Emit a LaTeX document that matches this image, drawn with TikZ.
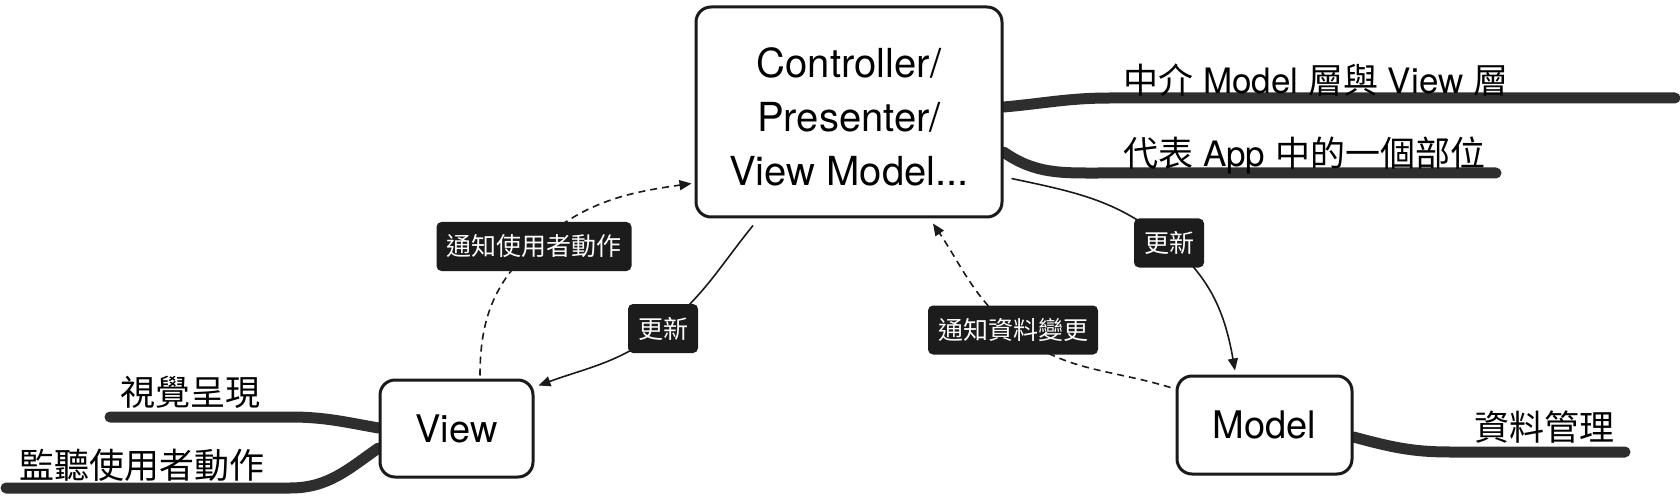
\documentclass[tikz,border=0pt]{standalone}
\usepackage{fontspec}
\setmainfont{TeX Gyre Heros}
\newfontfamily\cjk{Noto Sans CJK TC}
\usetikzlibrary{arrows.meta,calc,backgrounds}
\definecolor{ink}{HTML}{1A1A1A}
\definecolor{branchcol}{HTML}{2E2E2E}
\definecolor{tagbg}{HTML}{1C1C1C}
\begin{document}
\begin{tikzpicture}[x=0.5pt,y=-0.5pt,
  mainbox/.style={draw=ink,line width=1.5pt,rounded corners=7.5pt,fill=white,inner sep=0pt,align=center,font=\fontsize{19}{27}\selectfont},
  tag/.style={fill=tagbg,rounded corners=2.5pt,text=white,inner xsep=5pt,inner ysep=0pt,minimum height=24.5pt,font=\cjk\fontsize{12.5}{15}\selectfont},
  branchtxt/.style={anchor=west,inner sep=0pt,font=\fontsize{17.5}{20}\selectfont},
  branchline/.style={draw=branchcol,line width=5.5pt,line cap=round},
  flow/.style={draw=ink,line width=0.8pt,-{Triangle[length=6pt,width=5pt]}},
  flowdash/.style={flow,dash pattern=on 3.5pt off 2.5pt}]
\useasboundingbox (0,0) rectangle (1680,497);

% main nodes
\node[mainbox,minimum width=153pt,minimum height=105pt,font=\fontsize{20}{27}\selectfont] (ctrl) at (849,112) {\raisebox{0pt}[\dimexpr\height+9pt\relax][\depth]{\begin{tabular}{@{}c@{}}Controller/\\[0pt]Presenter/\\View Model...\end{tabular}}};
\node[mainbox,minimum width=76.5pt,minimum height=48.5pt] (view) at (456.5,428.5) {View};
\node[mainbox,minimum width=87.5pt,minimum height=49pt] (model) at (1264.5,425) {Model};

% labels
\node[tag] (l1) at (534,246.5) {通知使用者動作};
\node[tag] (l2) at (663,328.5) {更新};
\node[tag] (l3) at (1169,243) {更新};
\node[tag] (l4) at (1013,330) {通知資料變更};

% branch texts
\node[branchtxt] (t1) at (1123,80) {{\cjk 中介} Model {\cjk 層與} View {\cjk 層}};
\node[branchtxt] (t2) at (1123,155) {{\cjk 代表} App {\cjk 中的一個部位}};
\node[branchtxt] (t3) at (120,392) {\cjk 視覺呈現};
\node[branchtxt] (t4) at (19,465) {\cjk 監聽使用者動作};
\node[branchtxt] (t5) at (1474,427) {\cjk 資料管理};

% branch coordinates
\coordinate (b1mid) at (1110,98);
\coordinate (b1end) at (1675,98);
\coordinate (b2mid) at (1100,173);
\coordinate (b2end) at (1496,173);
\coordinate (b3mid) at (290,417);
\coordinate (b3end) at (110,417);
\coordinate (b4mid) at (290,488);
\coordinate (b4end) at (6,488);
\coordinate (b5mid) at (1450,452);
\coordinate (b5end) at (1625,452);

\begin{pgfonlayer}{background}
\draw[branchline] ($(ctrl.east)+(0,-5)$) to[out=5,in=180] (b1mid) -- (b1end);
\draw[branchline] ($(ctrl.east)+(0,40)$) to[out=-35,in=180] (b2mid) -- (b2end);
\draw[branchline] ($(view.west)+(0,-0.5)$) to[out=170,in=0] (b3mid) -- (b3end);
\draw[branchline] ($(view.west)+(0,19.5)$) to[out=215,in=0] (b4mid) -- (b4end);
\draw[branchline] ($(model.east)+(0,12)$) to[out=-15,in=180] (b5mid) -- (b5end);

% connectors
\draw[flowdash] ($(view.north)+(23.5,-3)$) to[out=90,in=222] (l1.center) to[out=42,in=188] ($(ctrl.south west)+(-3,-35)$);
\draw[flow] ($(ctrl.south)+(-96,7)$) to[out=231,in=39] (l2.center) to[out=219,in=20] ($(view.north east)+(4,7)$);
\draw[flow] ($(ctrl.south east)+(8,-40)$) to[out=-12,in=140] (l3.center) to[out=-40,in=100] ($(model.north)+(-29.5,-4)$);
\draw[flowdash] ($(model.north west)+(-5,13)$) to[out=163,in=-40] (l4.center) to[out=140,in=-56] ($(ctrl.south)+(84,5)$);
\end{pgfonlayer}
\end{tikzpicture}
\end{document}
